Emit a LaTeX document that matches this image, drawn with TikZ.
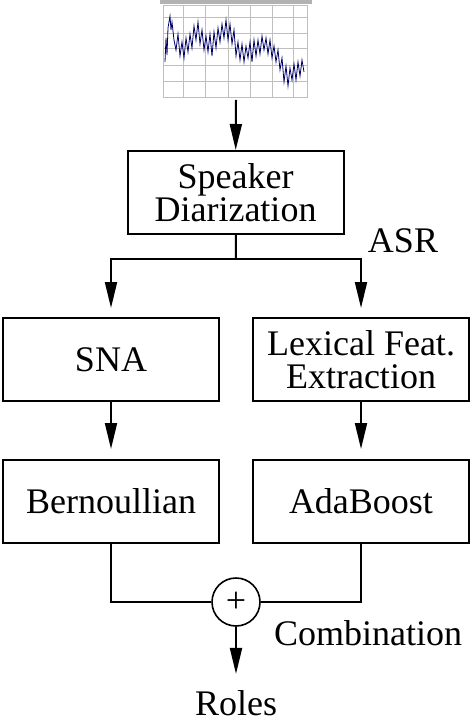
\documentclass[tikz,border=0pt]{standalone}
\usepackage{fontspec}
\setmainfont{Liberation Serif}
\usetikzlibrary{arrows.meta}

\begin{document}
\begin{tikzpicture}[x=0.5pt,y=-0.5pt,
  block/.style={draw,line width=1pt,minimum width=108pt,minimum height=41.5pt,
    inner sep=0pt,align=center,font=\fontsize{18}{16.5}\selectfont},
  lbl/.style={inner sep=0pt,font=\fontsize{18}{16.5}\selectfont},
  sum/.style={draw,circle,line width=0.8pt,minimum size=24pt,inner sep=0pt,
    font=\fontsize{18}{18}\selectfont},
  arr/.style={line width=1pt,-{Triangle[length=13pt,width=6pt]}},
  wire/.style={line width=1pt}]
\useasboundingbox (0,0) rectangle (474,721);

% waveform
\fill[gray!60] (160,0) rectangle (312,4);
\draw[gray!50,line width=0.3pt] (163,5) rectangle (307,97);
\foreach \gx in {183,205,228,250,272,293}
  \draw[gray!50,line width=0.3pt] (\gx,5) -- (\gx,97);
\foreach \gy in {17,33,48,65,81}
  \draw[gray!50,line width=0.3pt] (163,\gy) -- (307,\gy);
\draw[blue!40!black,line width=0.4pt] plot coordinates {
  (165,62)(166,38)(167,55)(168,28)(170,16)(171,30)(172,22)(174,40)(176,50)
  (178,34)(180,56)(182,42)(184,58)(186,38)(188,52)(190,34)(192,48)(194,26)
  (196,40)(198,22)(200,44)(202,30)(204,50)(206,36)(208,52)(210,34)(212,56)
  (214,32)(216,48)(218,28)(220,42)(222,24)(224,38)(226,20)(228,40)(230,24)
  (232,44)(234,30)(236,56)(238,42)(240,60)(242,44)(244,62)(246,46)(248,58)
  (250,42)(252,62)(254,40)(256,56)(258,40)(260,54)(262,36)(264,50)(266,38)
  (268,54)(270,40)(272,58)(274,46)(276,62)(278,50)(280,70)(282,58)(284,82)
  (286,66)(288,86)(290,68)(292,80)(294,64)(296,80)(298,62)(300,76)(302,60)
  (304,72)};
\coordinate (wave) at (236,100);

\node[block] (diar) at (235.5,192.5) {Speaker\\Diarization};
\node[block] (sna) at (111,359.5) {SNA};
\node[block] (lex) at (361,359.5) {Lexical Feat.\\Extraction};
\node[block] (bern) at (111,501.5) {Bernoullian};
\node[block] (ada) at (361,501.5) {AdaBoost};
\node[sum] (comb) at (236,602) {+};
\node[lbl] (asr) at (403,241) {ASR};
\node[lbl] (combl) at (368,633) {Combination};
\node[lbl] (roles) at (236,703) {Roles};
\coordinate (fork) at (236,259);

\draw[arr] (wave) -- (diar);
\draw[wire] (diar) -- (fork);
\draw[arr,shorten >=4.5pt] (fork) -| (sna);
\draw[arr,shorten >=4.5pt] (fork) -| (lex);
\draw[arr,shorten >=5pt] (sna) -- (bern);
\draw[arr,shorten >=5pt] (lex) -- (ada);
\draw[wire] (bern) |- (comb);
\draw[wire] (ada) |- (comb);
\draw[arr,shorten >=8pt] (comb) -- (roles);
\end{tikzpicture}
\end{document}
